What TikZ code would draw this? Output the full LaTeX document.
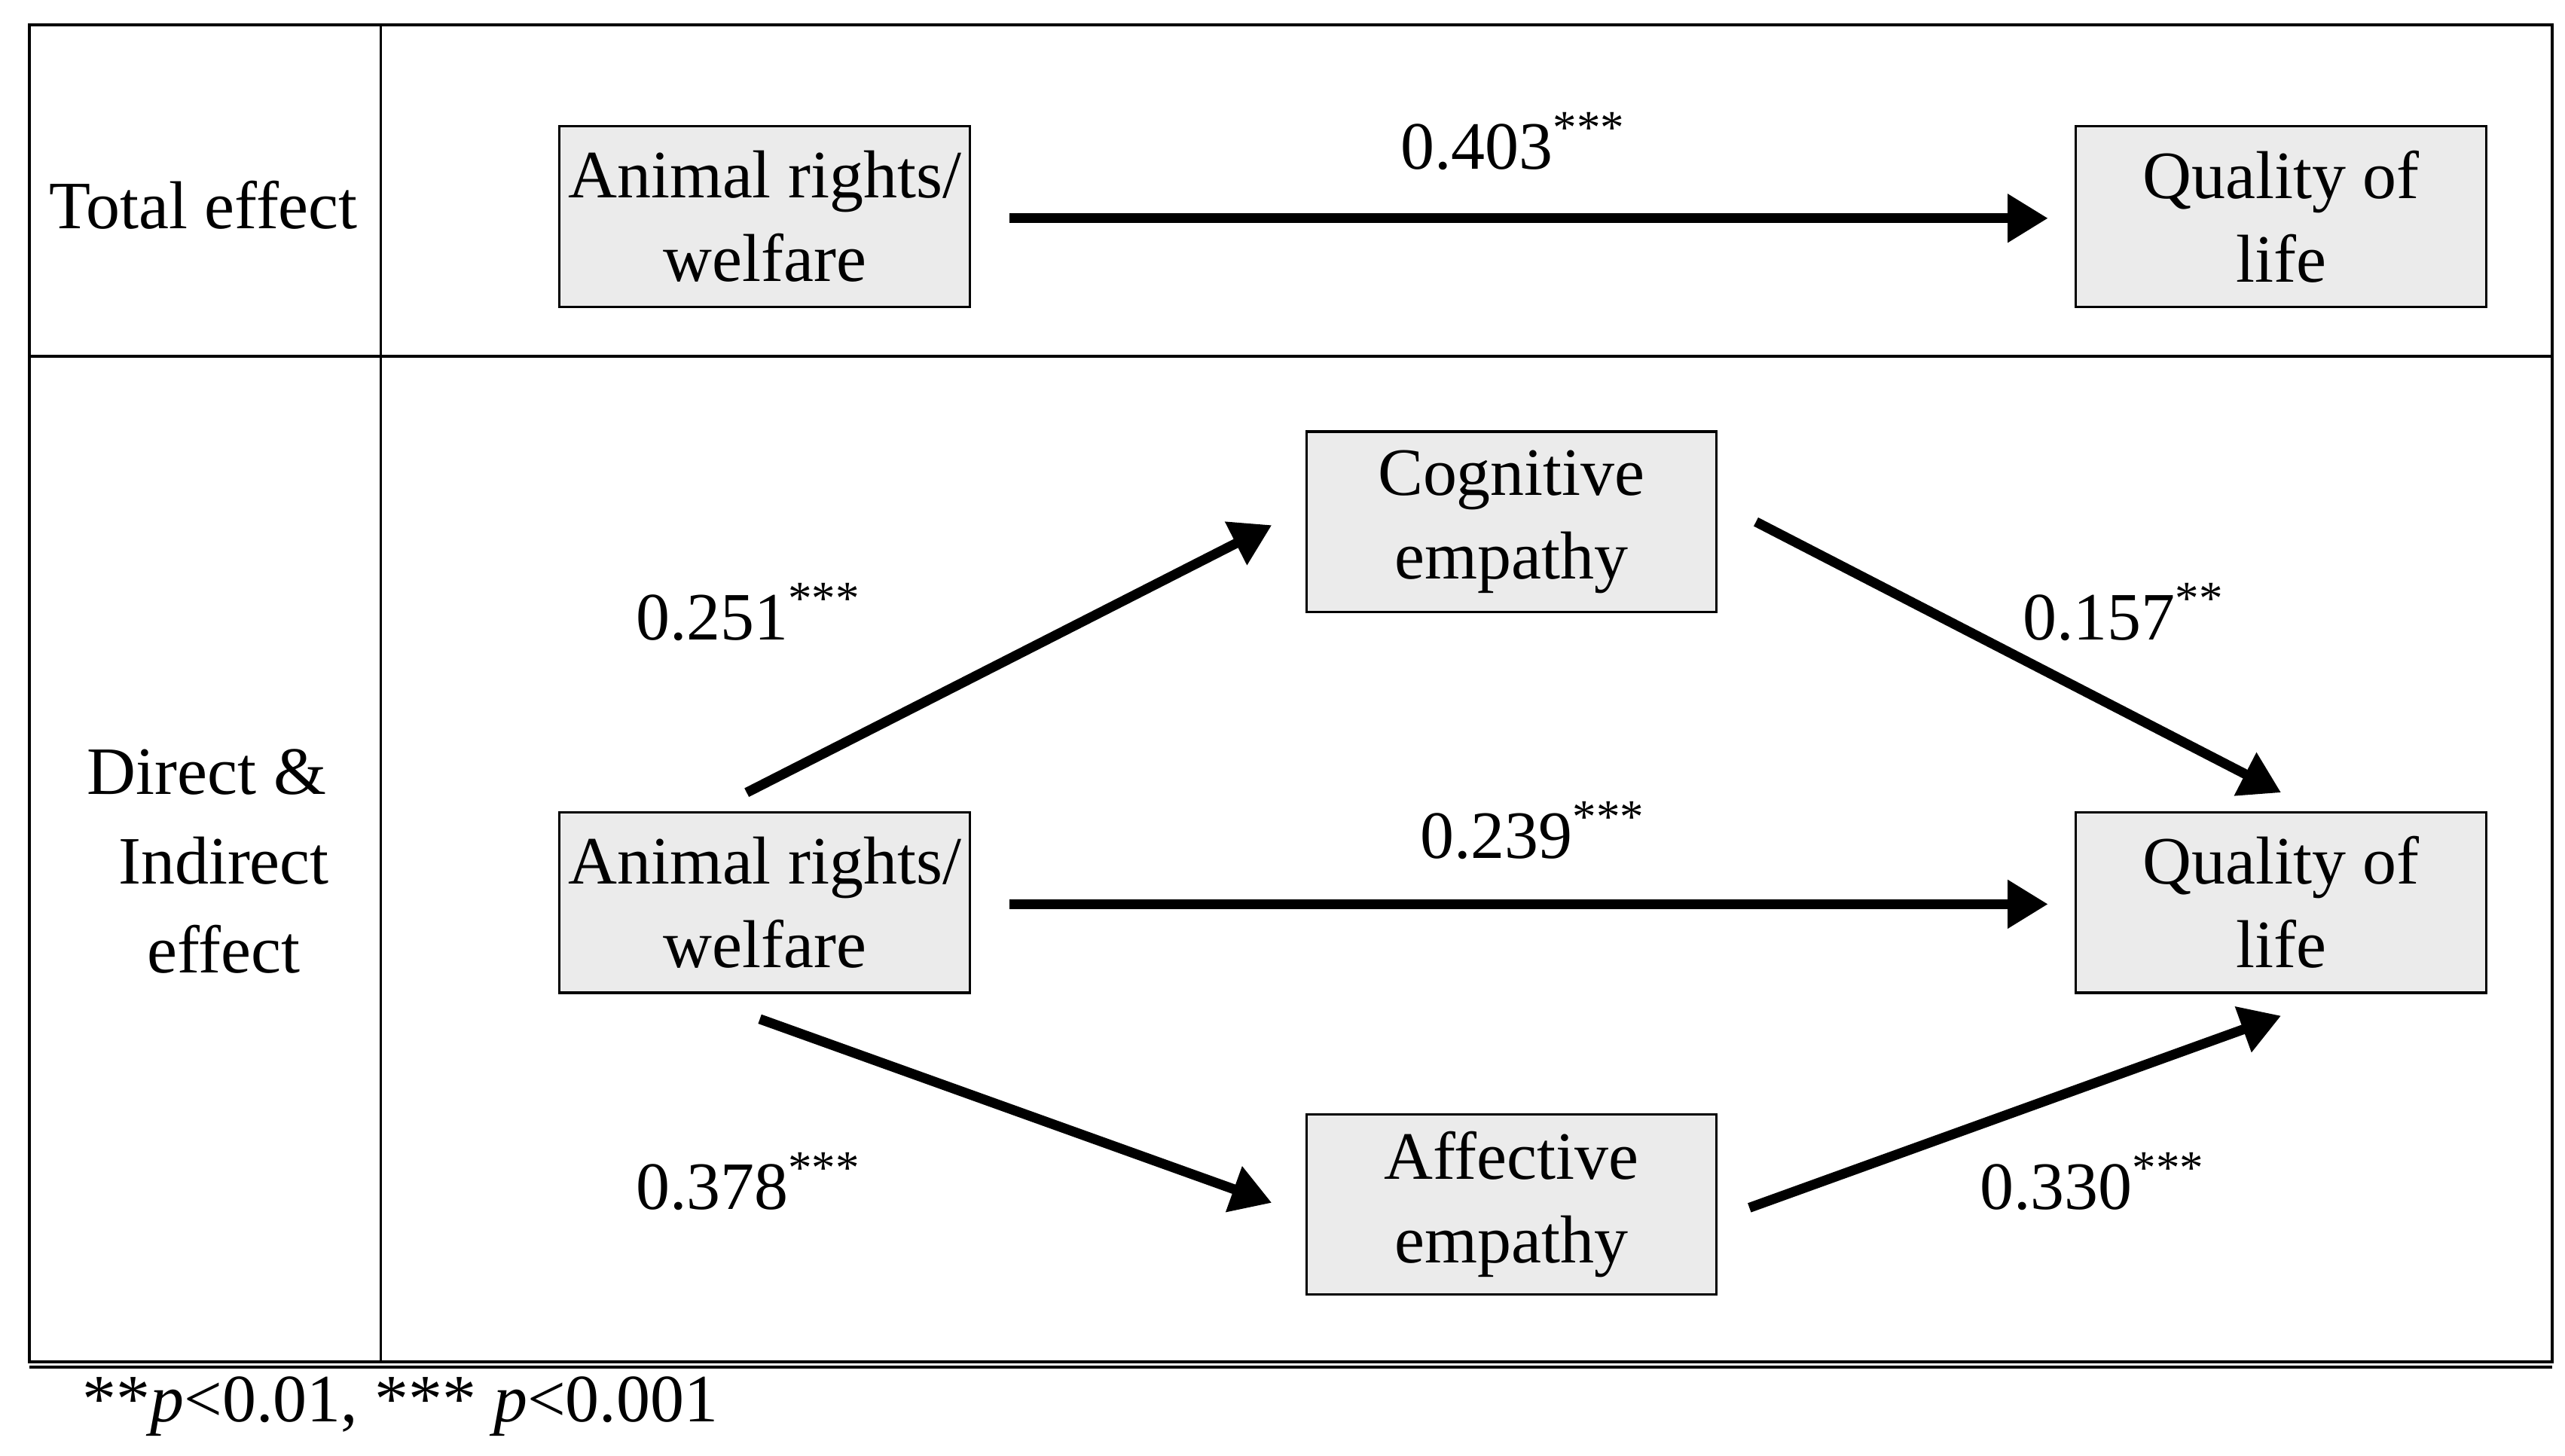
\documentclass[tikz,border=0pt]{standalone}
\usepackage{fontspec}
\setmainfont{Liberation Serif}
\usetikzlibrary{arrows.meta}
\begin{document}
\begin{tikzpicture}[x=0.02cm,y=-0.02cm,
  box/.style={draw,fill=black!8,line width=0.8pt,minimum width=5cm,minimum height=2.2cm,align=center,inner sep=0pt,font=\fontsize{23.5}{29}\selectfont},
  arr/.style={line width=3.4pt,-{Triangle[length=14pt,width=16pt]}},
  lab/.style={font=\fontsize{23.5}{31}\selectfont,inner sep=0pt},
  grid/.style={line width=1pt}]
\useasboundingbox (0,0) rectangle (1563,887);
\draw[grid] (18,15) rectangle (1555,830);
\draw[grid] (18,217) -- (1555,217);
\draw[grid] (232,15) -- (232,830);
\draw[line width=1pt] (18,833) -- (1555,833);
\node[lab] (t1) at (124,125) {Total effect};
\node[lab,align=center] (t2) at (126,525) {Direct \&\\\ \ Indirect\\\ \ effect};
\node[box] (a1) at (466,132) {Animal rights/\\welfare};
\node[box] (q1) at (1390,132) {Quality of\\life};
\node[box] (c) at (921,318) {Cognitive\\empathy};
\node[box] (a2) at (466,550) {Animal rights/\\welfare};
\node[box] (q2) at (1390,550) {Quality of\\life};
\node[box] (f) at (921,734) {Affective\\empathy};
\coordinate (s1) at (615,133); \coordinate (e1) at (1248,133);
\draw[arr] (s1) -- (e1);
\coordinate (s2) at (455,483); \coordinate (e2) at (775,320);
\draw[arr] (s2) -- (e2);
\coordinate (s3) at (1070,318); \coordinate (e3) at (1390,483);
\draw[arr] (s3) -- (e3);
\coordinate (s4) at (615,551); \coordinate (e4) at (1248,551);
\draw[arr] (s4) -- (e4);
\coordinate (s5) at (463,621); \coordinate (e5) at (775,733);
\draw[arr] (s5) -- (e5);
\coordinate (s6) at (1066,736); \coordinate (e6) at (1390,619);
\draw[arr] (s6) -- (e6);
\node[lab] (l1) at (922,86) {0.403\textsuperscript{***}};
\node[lab] (l2) at (456,373) {0.251\textsuperscript{***}};
\node[lab] (l3) at (1294,373) {0.157\textsuperscript{**}};
\node[lab] (l4) at (934,506) {0.239\textsuperscript{***}};
\node[lab] (l5) at (456,720) {0.378\textsuperscript{***}};
\node[lab] (l6) at (1275,720) {0.330\textsuperscript{***}};
\node[lab,anchor=west] (fn) at (50,857) {**\textit{p}<0.01, *** \textit{p}<0.001};
\end{tikzpicture}
\end{document}
